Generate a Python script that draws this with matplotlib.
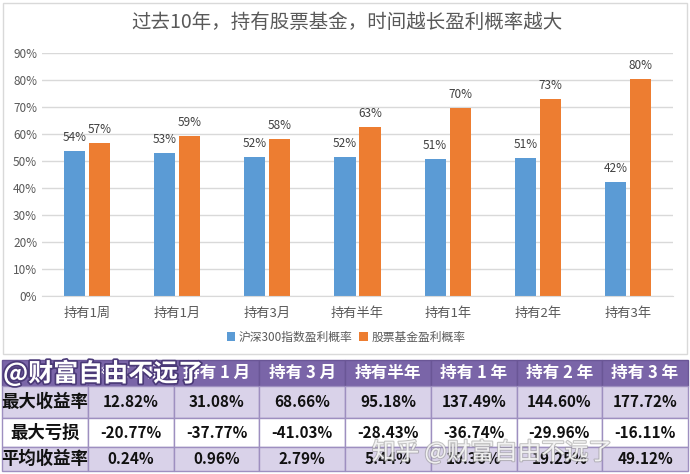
import matplotlib
matplotlib.use("Agg")
import matplotlib.pyplot as plt
import matplotlib.patheffects as pe
from matplotlib.patches import Rectangle

plt.rcParams['font.family'] = ['Noto Sans CJK SC', 'DejaVu Sans']

# ---- data ----
periods = ["持有1周", "持有1月", "持有3月", "持有半年", "持有1年", "持有2年", "持有3年"]
hs300_win = [53.6, 52.8, 51.6, 51.6, 50.7, 51.0, 42.3]
fund_win = [56.7, 59.3, 58.0, 62.6, 69.7, 73.0, 80.3]
series_names = ["沪深300指数盈利概率", "股票基金盈利概率"]

table_header = ["持有 1 周", "持有 1 月", "持有 3 月", "持有半年", "持有 1 年", "持有 2 年", "持有 3 年"]
row_names = ["最大收益率", "最大亏损", "平均收益率"]
max_return = ["12.82%", "31.08%", "68.66%", "95.18%", "137.49%", "144.60%", "177.72%"]
max_loss = ["-20.77%", "-37.77%", "-41.03%", "-28.43%", "-36.74%", "-29.96%", "-16.11%"]
avg_return = ["0.24%", "0.96%", "2.79%", "5.44%", "10.36%", "19.25%", "49.12%"]

W, H = 690, 474
fig = plt.figure(figsize=(W / 100, H / 100), dpi=100)
fig.patch.set_facecolor("white")

def fx(px):
    return px / W

def fy(py):
    return 1 - py / H

# chart frame
fig.patches.append(Rectangle((fx(3), fy(354)), fx(684), 351 / H, transform=fig.transFigure,
                             fill=False, edgecolor="#D9D9D9", lw=1))

fig.text(fx(347), fy(22), "过去10年，持有股票基金，时间越长盈利概率越大",
         ha="center", va="center", fontsize=14, color="#595959")

ax = fig.add_axes([fx(42), fy(296), fx(631), (296 - 53) / H])
x = range(len(periods))
bw = 0.235
off = 0.139
b1 = ax.bar([i - off for i in x], hs300_win, bw, color="#5B9BD5", label=series_names[0])
b2 = ax.bar([i + off for i in x], fund_win, bw, color="#ED7D31", label=series_names[1])
for bars, vals in ((b1, hs300_win), (b2, fund_win)):
    for r, v in zip(bars, vals):
        ax.annotate(f"{v:.0f}%", (r.get_x() + r.get_width() / 2, r.get_height()),
                    xytext=(0, 7), textcoords="offset pixels", ha="center", va="bottom",
                    fontsize=8.5, color="#404040")

ax.set_xlim(-0.5, len(periods) - 0.5)
ax.set_ylim(0, 90)
ax.set_yticks(range(0, 91, 10))
ax.set_yticklabels([f"{t}%" for t in range(0, 91, 10)])
ax.set_xticks(list(x))
ax.set_xticklabels(periods)
ax.tick_params(length=0, labelsize=8.5, labelcolor="#595959")
ax.tick_params(axis="x", pad=8, labelsize=9.5)
ax.grid(axis="y", color="#D9D9D9", lw=1)
ax.set_axisbelow(True)
for s in ("top", "right", "left"):
    ax.spines[s].set_visible(False)
ax.spines["bottom"].set_color("#D9D9D9")

fig.legend(handles=[b1, b2], loc="center", bbox_to_anchor=(fx(346), fy(337)), ncol=2,
           frameon=False, fontsize=8.5, handlelength=0.7, handleheight=0.7,
           handletextpad=0.3, columnspacing=0.6, labelcolor="#595959")

# ---- table ----
col_edges = [2, 88] + [88 + 85.7 * (i + 1) for i in range(7)]
row_edges = [360, 386, 418, 447, 471]
header_c = "#7A65A8"
band_c = "#D9D2E9"
line_c = "#9E8FC0"
rows = [max_return, max_loss, avg_return]

for c in range(8):
    x0, x1 = col_edges[c], col_edges[c + 1]
    for r in range(4):
        y0, y1 = row_edges[r], row_edges[r + 1]
        if r == 0:
            fc = header_c
        elif r == 2:
            fc = "white"
        else:
            fc = band_c
        fig.patches.append(Rectangle((fx(x0), fy(y1)), fx(x1 - x0), (y1 - y0) / H,
                                     transform=fig.transFigure, facecolor=fc,
                                     edgecolor=line_c if r else "#6A5696", lw=1))
        xc, yc = fx((x0 + x1) / 2), fy((y0 + y1) / 2)
        if r == 0 and c > 0:
            fig.text(xc, yc, table_header[c - 1], ha="center", va="center",
                     fontsize=12, color="white", fontweight="bold")
        elif r > 0 and c == 0:
            fig.text(xc, yc, row_names[r - 1], ha="center", va="center",
                     fontsize=12.5, color="#111111", fontweight="bold")
        elif r > 0:
            fig.text(xc, yc, rows[r - 1][c - 1], ha="center", va="center",
                     fontsize=11, color="#111111", fontweight="bold")

# watermarks
fig.text(fx(3), fy(373), "@财富自由不远了", ha="left", va="center", fontsize=18,
         fontweight="heavy", color="white",
         path_effects=[pe.withStroke(linewidth=2.5, foreground="#4B3A78")])
fig.text(fx(372), fy(452), "知乎 @财富自由不远了", ha="left", va="center", fontsize=17,
         color="white", alpha=0.8,
         path_effects=[pe.withStroke(linewidth=1.5, foreground="#9A9A9A", alpha=0.6)])

fig.savefig("out.png", dpi=100)
